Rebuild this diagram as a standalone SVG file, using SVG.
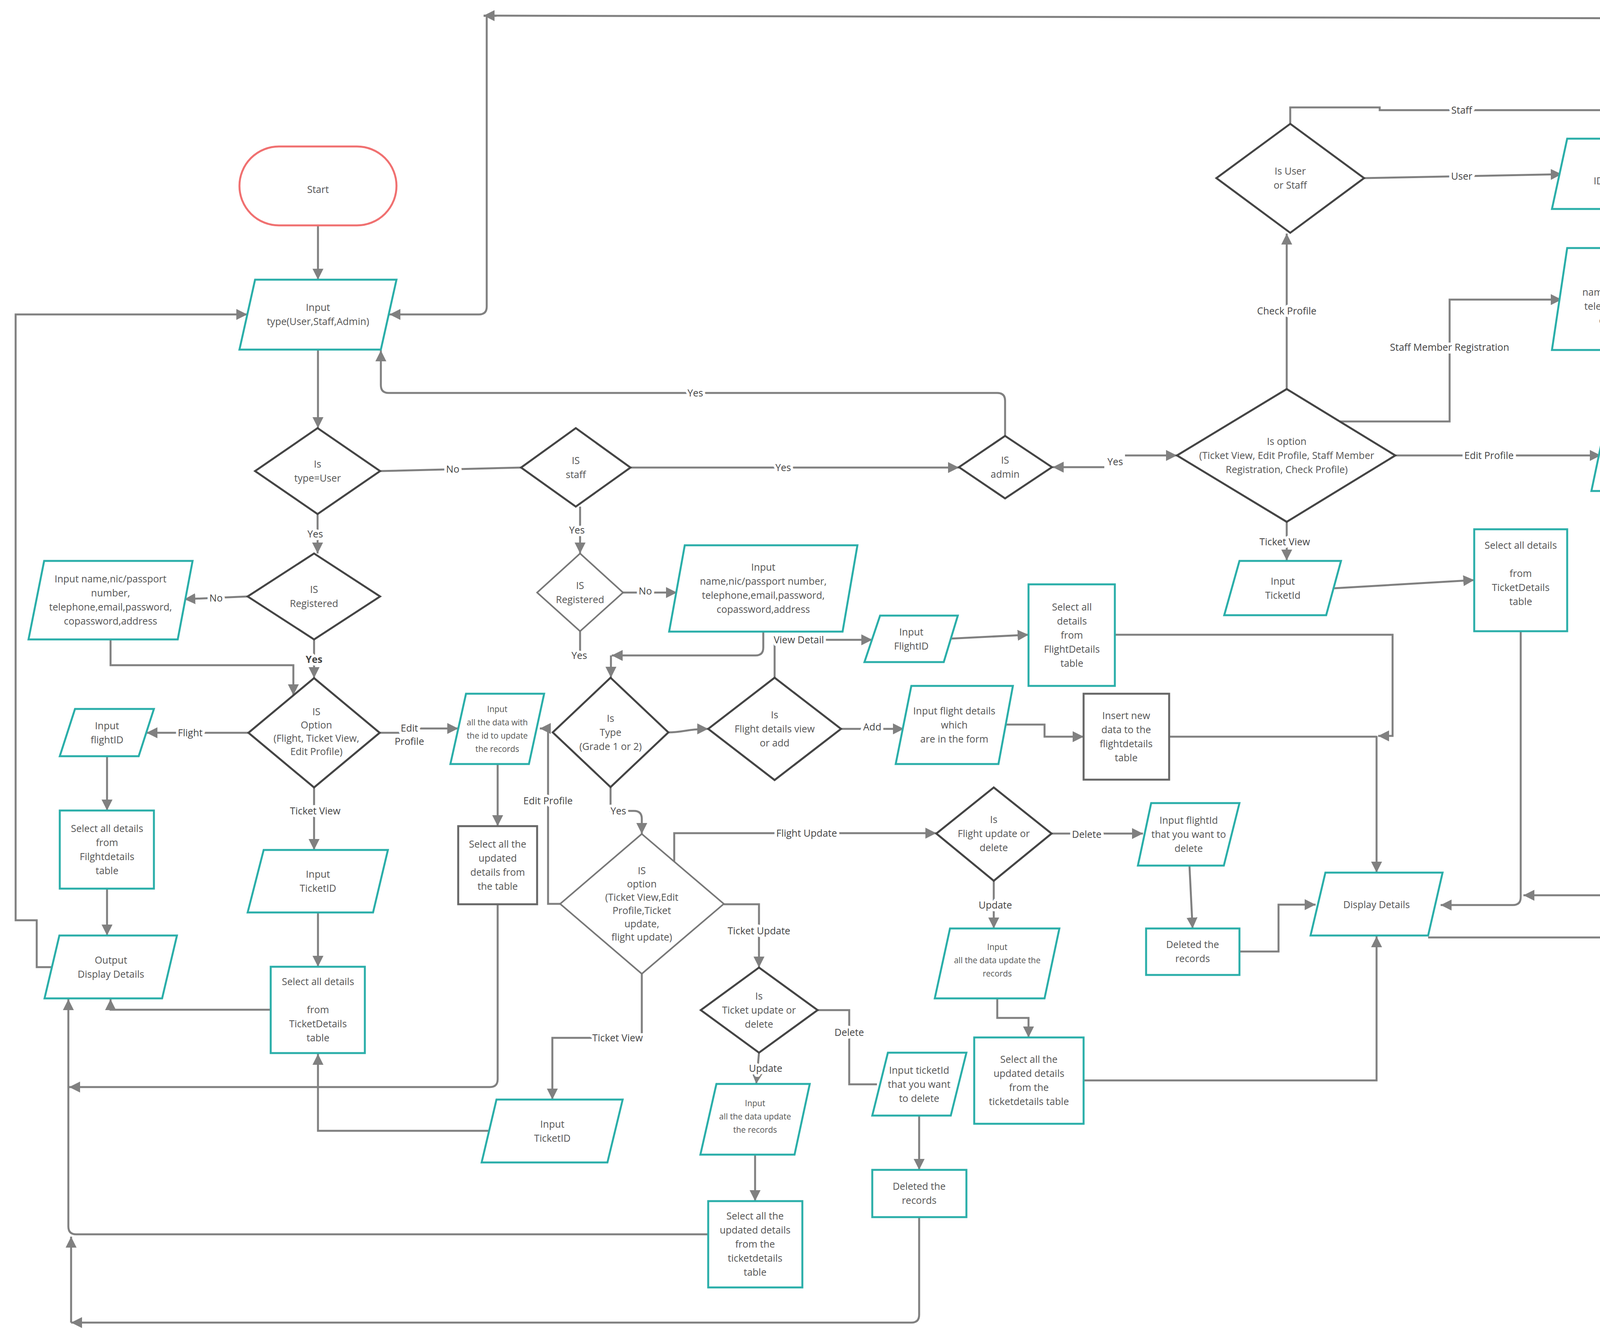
<svg xmlns="http://www.w3.org/2000/svg" width="5624" height="3428" viewBox="0 0 5624 3428">
<defs>
<marker id="a" viewBox="0 0 10 10" refX="10" refY="5" markerWidth="28" markerHeight="28" markerUnits="userSpaceOnUse" orient="auto"><path d="M0,0 L10,5 L0,10 z" fill="#808080"/></marker>
<style>
.t{font-family:"Open Sans","Liberation Sans",sans-serif;font-size:25px;fill:#555;text-anchor:middle}
.s{font-size:21px}
.l{font-family:"Open Sans","Liberation Sans",sans-serif;font-size:25px;fill:#444;text-anchor:middle;stroke:#fff;stroke-width:14px;paint-order:stroke;stroke-linejoin:round}
.io{fill:#fff;stroke:#2aaea9;stroke-width:5}
.gr{fill:#fff;stroke:#666;stroke-width:5}
.dm{fill:#fff;stroke:#444;stroke-width:5}
.dl{fill:#fff;stroke:#777;stroke-width:4}
.st{fill:#fff;stroke:#f07070;stroke-width:5}
.c path{fill:none;stroke:#808080;stroke-width:5}
.c .m{marker-end:url(#a)}
</style>
</defs>
<rect width="5624" height="3428" fill="#fff"/>
<g class="c" id="connectors">
<path class="m" d="M814,577 V716"/>
<path class="m" d="M814,895 V1096"/>
<path d="M973,1206 L1334,1197"/>
<path class="m" d="M1614,1197 H2455"/>
<path class="m" d="M2573,1116 V1026 Q2573,1006 2553,1006 H995 Q975,1006 975,986 V897"/>
<path class="m" d="M2827,1196 H2695"/>
<path class="m" d="M2880,1166 H3013"/>
<path class="m" d="M813,1316 V1417"/>
<path class="m" d="M634,1527 L472,1534"/>
<path class="m" d="M283,1637 V1703 H751 V1780"/>
<path class="m" d="M804,1637 V1736"/>
<path class="m" d="M636,1876 H375"/>
<path class="m" d="M274,1936 V2075"/>
<path class="m" d="M274,2275 V2395"/>
<path class="m" d="M133,2476 H94 V2356 H40 V805 H633"/>
<path class="m" d="M804,2016 V2176"/>
<path class="m" d="M814,2336 V2475"/>
<path class="m" d="M693,2585 H283 V2558"/>
<path class="m" d="M972,1876 H1035 V1865 H1173"/>
<path class="m" d="M1274,1956 V2115"/>
<path class="m" d="M1274,2315 V2763 Q1274,2783 1254,2783 H177"/>
<path class="m" d="M1485,1297 V1417"/>
<path class="m" d="M1595,1517 H1733"/>
<path d="M1485,1616 V1678"/>
<path class="m" d="M1954,1617 V1658 Q1954,1678 1934,1678 H1566"/>
<path class="m" d="M1564,1678 V1735"/>
<path class="m" d="M1983,1735 V1638 H2233"/>
<path class="m" d="M2432,1635 L2633,1625"/>
<path class="m" d="M2854,1625 H3565 V1884 H3528"/>
<path d="M2993,1886 H3524"/>
<path class="m" d="M3524,1884 V2234"/>
<path class="m" d="M1711,1875 C1750,1875 1760,1866 1813,1866"/>
<path class="m" d="M2153,1866 H2314"/>
<path class="m" d="M2575,1855 H2674 V1886 H2774"/>
<path class="m" d="M1434,2314 H1403 V1865 H1382"/>
<path class="m" d="M1563,2015 V2076 H1623 Q1643,2076 1643,2096 V2135"/>
<path class="m" d="M1726,2209 V2133 H2397"/>
<path class="m" d="M2692,2134 H2926"/>
<path class="m" d="M3045,2216 L3053,2377"/>
<path class="m" d="M3173,2436 H3273 V2316 H3368"/>
<path class="m" d="M2544,2255 V2377"/>
<path class="m" d="M2553,2556 V2606 H2633 V2656"/>
<path class="m" d="M2775,2766 H3524 V2397"/>
<path class="m" d="M1853,2315 H1943 V2477"/>
<path d="M2093,2586 H2174 V2776 H2245"/>
<path class="m" d="M2353,2856 V2995"/>
<path class="m" d="M2353,3116 V3366 Q2353,3386 2333,3386 H182"/>
<path class="m" d="M182,3386 V3166"/>
<path class="m" d="M1943,2695 L1936,2775"/>
<path class="m" d="M1933,2956 V3075"/>
<path class="m" d="M1813,3160 H195 Q175,3160 175,3140 V2558"/>
<path class="m" d="M1643,2493 V2657 H1414 V2815"/>
<path class="m" d="M1253,2895 H814 V2698"/>
<path class="m" d="M3656,2400 H5568"/>
<path class="m" d="M5568,2400 V50"/>
<path class="m" d="M5568,50 L1238,40"/>
<path class="m" d="M1246,40 V785 Q1246,805 1226,805 H997"/>
<path class="m" d="M3303,317 V275 H3532 V282 H4154 V355"/>
<path class="m" d="M3492,456 L3998,446"/>
<path class="m" d="M4316,446 H4900 Q4920,446 4920,466 V1071"/>
<path class="m" d="M4920,1071 L4776,1088"/>
<path class="m" d="M3294,996 V598"/>
<path class="m" d="M3430,1079 H3711 V767 H3998"/>
<path class="m" d="M4436,767 H4543 V896 H4654"/>
<path d="M4774,976 V2281 H4334"/>
<path class="m" d="M3572,1166 H4098"/>
<path class="m" d="M4303,1257 L4312,1396"/>
<path class="m" d="M4334,1616 V2281"/>
<path class="m" d="M4334,2292 H3900"/>
<path class="m" d="M3294,1336 V1435"/>
<path class="m" d="M3416,1506 L3774,1485"/>
<path class="m" d="M3893,1616 V2297 Q3893,2317 3873,2317 H3688"/>
</g>
<g id="labels">
<text class="l" x="1159" y="1210">No</text>
<text class="l" x="2005" y="1206">Yes</text>
<text class="l" x="1780" y="1015">Yes</text>
<text class="l" x="2855" y="1191">Yes</text>
<text class="l" x="807" y="1376">Yes</text>
<text class="l" x="553" y="1540">No</text>
<text class="l" x="804" y="1697" font-weight="bold">Yes</text>
<text class="l" x="487" y="1885">Flight</text>
<text class="l" x="807" y="2085">Ticket View</text>
<text class="l" x="1048" y="1873">Edit</text>
<text class="l" x="1048" y="1907">Profile</text>
<text class="l" x="1477" y="1366">Yes</text>
<text class="l" x="1652" y="1522">No</text>
<text class="l" x="1483" y="1687">Yes</text>
<text class="l" x="2045" y="1647">View Detail</text>
<text class="l" x="2233" y="1870">Add</text>
<text class="l" x="1403" y="2059">Edit Profile</text>
<text class="l" x="1583" y="2085">Yes</text>
<text class="l" x="2065" y="2142">Flight Update</text>
<text class="l" x="2782" y="2145">Delete</text>
<text class="l" x="2548" y="2326">Update</text>
<text class="l" x="1943" y="2392">Ticket Update</text>
<text class="l" x="2174" y="2652">Delete</text>
<text class="l" x="1960" y="2744">Update</text>
<text class="l" x="1581" y="2666">Ticket View</text>
<text class="l" x="3742" y="291">Staff</text>
<text class="l" x="3742" y="460">User</text>
<text class="l" x="3294" y="805">Check Profile</text>
<text class="l" x="3711" y="898">Staff Member Registration</text>
<text class="l" x="3812" y="1175">Edit Profile</text>
<text class="l" x="3289" y="1396">Ticket View</text>
</g>
<g id="start"><rect class="st" x="613" y="375" width="402" height="202" rx="101"/><text class="t" x="814" y="494">Start</text></g>
<g id="inType"><polygon class="io" points="653,716 1015,716 975,895 613,895"/><text class="t" x="814" y="796">Input<tspan x="814" dy="36">type(User,Staff,Admin)</tspan></text></g>
<g id="dType"><polygon class="dm" points="813,1096 973,1206 813,1316 653,1206"/><text class="t" x="813" y="1197">Is<tspan x="813" dy="36">type=User</tspan></text></g>
<g id="dStaff"><polygon class="dm" points="1474,1096 1614,1197 1474,1297 1334,1197"/><text class="t" x="1474" y="1188">IS<tspan x="1474" dy="36">staff</tspan></text></g>
<g id="dAdmin"><polygon class="dm" points="2573,1116 2693,1196 2573,1276 2455,1196"/><text class="t" x="2573" y="1187">IS<tspan x="2573" dy="36">admin</tspan></text></g>
<g id="dReg1"><polygon class="dm" points="804,1417 973,1527 804,1637 634,1527"/><text class="t" x="804" y="1518">IS<tspan x="804" dy="36">Registered</tspan></text></g>
<g id="pReg1"><polygon class="io" points="113,1436 493,1436 455,1637 73,1637"/><text class="t" x="283" y="1491">Input name,nic/passport<tspan x="283" dy="36">number,</tspan><tspan x="283" dy="36">telephone,email,password,</tspan><tspan x="283" dy="36">copassword,address</tspan></text></g>
<g id="dOpt1"><polygon class="dm" points="804,1736 972,1876 804,2016 636,1876"/><text class="t" x="810" y="1831">IS<tspan x="810" dy="34">Option</tspan><tspan x="810" dy="34">(Flight, Ticket View,</tspan><tspan x="810" dy="34">Edit Profile)</tspan></text></g>
<g id="pFlightID1"><polygon class="io" points="192,1815 394,1815 355,1936 153,1936"/><text class="t" x="274" y="1867">Input<tspan x="274" dy="36">flightID</tspan></text></g>
<g id="rFlight1"><rect class="io" x="153" y="2075" width="241" height="200"/><text class="t" x="274" y="2130">Select all details<tspan x="274" dy="36">from</tspan><tspan x="274" dy="36">Filghtdetails</tspan><tspan x="274" dy="36">table</tspan></text></g>
<g id="pOutput"><polygon class="io" points="152,2395 453,2395 415,2556 114,2556"/><text class="t" x="284" y="2467">Output<tspan x="284" dy="36">Display  Details</tspan></text></g>
<g id="pTicketID1"><polygon class="io" points="675,2176 993,2176 955,2336 634,2336"/><text class="t" x="814" y="2247">Input<tspan x="814" dy="36">TicketID</tspan></text></g>
<g id="rTicket1"><rect class="io" x="693" y="2475" width="241" height="221"/><text class="t" x="814" y="2522">Select all details<tspan x="814" dy="72">from</tspan><tspan x="814" dy="36">TicketDetails</tspan><tspan x="814" dy="36">table</tspan></text></g>
<g id="pEdit1"><polygon class="io" points="1193,1776 1393,1776 1354,1956 1153,1956"/><text class="t s" x="1273" y="1823">Input<tspan x="1273" dy="34">all the data with</tspan><tspan x="1273" dy="34">the id to update</tspan><tspan x="1273" dy="34">the records</tspan></text></g>
<g id="rEdit1"><rect class="gr" x="1173" y="2115" width="202" height="200"/><text class="t" x="1274" y="2170">Select all the<tspan x="1274" dy="36">updated</tspan><tspan x="1274" dy="36">details from</tspan><tspan x="1274" dy="36">the table</tspan></text></g>
<g id="dReg2"><polygon class="dl" points="1485,1417 1595,1517 1485,1616 1375,1517"/><text class="t" x="1485" y="1508">IS<tspan x="1485" dy="36">Registered</tspan></text></g>
<g id="pReg2"><polygon class="io" points="1753,1396 2195,1396 2157,1617 1713,1617"/><text class="t" x="1954" y="1461">Input<tspan x="1954" dy="36">name,nic/passport number,</tspan><tspan x="1954" dy="36">telephone,email,password,</tspan><tspan x="1954" dy="36">copassword,address</tspan></text></g>
<g id="pFlightID2"><polygon class="io" points="2253,1576 2452,1576 2416,1695 2213,1695"/><text class="t" x="2333" y="1627">Input<tspan x="2333" dy="36">FlightID</tspan></text></g>
<g id="rFD"><rect class="io" x="2633" y="1496" width="221" height="260"/><text class="t" x="2744" y="1563">Select all<tspan x="2744" dy="36">details</tspan><tspan x="2744" dy="36">from</tspan><tspan x="2744" dy="36">FlightDetails</tspan><tspan x="2744" dy="36">table</tspan></text></g>
<g id="dIsType"><polygon class="dm" points="1563,1735 1711,1875 1563,2015 1415,1875"/><text class="t" x="1563" y="1848">Is<tspan x="1563" dy="36">Type</tspan><tspan x="1563" dy="36">(Grade 1 or 2)</tspan></text></g>
<g id="dFV"><polygon class="dm" points="1983,1735 2153,1866 1983,1997 1813,1866"/><text class="t" x="1983" y="1839">Is<tspan x="1983" dy="36">Flight details view</tspan><tspan x="1983" dy="36">or add</tspan></text></g>
<g id="pAddFlight"><polygon class="io" points="2333,1756 2593,1756 2556,1956 2293,1956"/><text class="t" x="2443" y="1829">Input flight details<tspan x="2443" dy="36">which</tspan><tspan x="2443" dy="36">are in the form</tspan></text></g>
<g id="rInsertFlight"><rect class="gr" x="2774" y="1776" width="219" height="220"/><text class="t" x="2883" y="1841">Insert new<tspan x="2883" dy="36">data to the</tspan><tspan x="2883" dy="36">flightdetails</tspan><tspan x="2883" dy="36">table</tspan></text></g>
<g id="dOpt2"><polygon class="dl" points="1643,2135 1853,2314 1643,2493 1434,2314"/><text class="t" x="1643" y="2238">IS<tspan x="1643" dy="34">option</tspan><tspan x="1643" dy="34">(Ticket View,Edit</tspan><tspan x="1643" dy="34">Profile,Ticket</tspan><tspan x="1643" dy="34">update,</tspan><tspan x="1643" dy="34">flight update)</tspan></text></g>
<g id="dFU"><polygon class="dm" points="2544,2016 2692,2134 2544,2255 2397,2134"/><text class="t" x="2544" y="2107">Is<tspan x="2544" dy="36">Flight update or</tspan><tspan x="2544" dy="36">delete</tspan></text></g>
<g id="pDelFlight"><polygon class="io" points="2947,2056 3173,2056 3133,2216 2913,2216"/><text class="t" x="3043" y="2109">Input flightId<tspan x="3043" dy="36">that you want to</tspan><tspan x="3043" dy="36">delete</tspan></text></g>
<g id="rDel1"><rect class="io" x="2934" y="2377" width="239" height="119"/><text class="t" x="3053" y="2427">Deleted the<tspan x="3053" dy="36">records</tspan></text></g>
<g id="pUpdFlight"><polygon class="io" points="2432,2377 2712,2377 2674,2556 2393,2556"/><text class="t s" x="2553" y="2432">Input<tspan x="2553" dy="34">all the data update the</tspan><tspan x="2553" dy="34">records</tspan></text></g>
<g id="rUpd1"><rect class="io" x="2494" y="2656" width="280" height="221"/><text class="t" x="2634" y="2721">Select all the<tspan x="2634" dy="36">updated details</tspan><tspan x="2634" dy="36">from the</tspan><tspan x="2634" dy="36">ticketdetails table</tspan></text></g>
<g id="dTU"><polygon class="dm" points="1943,2477 2093,2586 1943,2695 1794,2586"/><text class="t" x="1943" y="2559">Is<tspan x="1943" dy="36">Ticket update or</tspan><tspan x="1943" dy="36">delete</tspan></text></g>
<g id="pDelTicket"><polygon class="io" points="2273,2695 2474,2695 2434,2856 2233,2856"/><text class="t" x="2353" y="2749">Input ticketId<tspan x="2353" dy="36">that you want</tspan><tspan x="2353" dy="36">to delete</tspan></text></g>
<g id="rDel2"><rect class="io" x="2233" y="2995" width="241" height="121"/><text class="t" x="2353" y="3046">Deleted the<tspan x="2353" dy="36">records</tspan></text></g>
<g id="pUpdTicket"><polygon class="io" points="1834,2775 2073,2775 2034,2956 1793,2956"/><text class="t s" x="1933" y="2832">Input<tspan x="1933" dy="34">all the data update</tspan><tspan x="1933" dy="34">the records</tspan></text></g>
<g id="rUpd2"><rect class="io" x="1813" y="3075" width="241" height="221"/><text class="t" x="1933" y="3122">Select all the<tspan x="1933" dy="36">updated details</tspan><tspan x="1933" dy="36">from the</tspan><tspan x="1933" dy="36">ticketdetails</tspan><tspan x="1933" dy="36">table</tspan></text></g>
<g id="pTicketID2"><polygon class="io" points="1271,2815 1594,2815 1555,2976 1233,2976"/><text class="t" x="1414" y="2887">Input<tspan x="1414" dy="36">TicketID</tspan></text></g>
<g id="pDisplay"><polygon class="io" points="3393,2234 3693,2234 3656,2395 3355,2395"/><text class="t" x="3524" y="2325">Display Details</text></g>
<g id="dUS"><polygon class="dm" points="3303,317 3492,456 3303,596 3114,456"/><text class="t" x="3303" y="447">Is User<tspan x="3303" dy="36">or Staff</tspan></text></g>
<g id="pIDEmail"><polygon class="io" points="4012,355 4333,355 4295,535 3973,535"/><text class="t" x="4153" y="436">Input<tspan x="4153" dy="36">ID and email</tspan></text></g>
<g id="dAdminOpt"><polygon class="dm" points="3294,996 3572,1166 3294,1336 3013,1166"/><text class="t" x="3294" y="1139">Is option<tspan x="3294" dy="36">(Ticket View, Edit Profile, Staff Member</tspan><tspan x="3294" dy="36">Registration, Check Profile)</tspan></text></g>
<g id="pRegStaff"><polygon class="io" points="4012,635 4453,635 4415,896 3973,896"/><text class="t" x="4213" y="721">Input<tspan x="4213" dy="36">name,nic/passport number,</tspan><tspan x="4213" dy="36">telephone,email,password,</tspan><tspan x="4213" dy="36">copassword,address</tspan></text></g>
<g id="rInsertStaff"><rect class="io" x="4654" y="815" width="240" height="161"/><text class="t" x="4774" y="869">Insert new<tspan x="4774" dy="36">records to staff</tspan><tspan x="4774" dy="36">table</tspan></text></g>
<g id="pEditAdmin"><polygon class="io" points="4112,1076 4533,1076 4493,1257 4074,1257"/><text class="t s" x="4303" y="1132">Input<tspan x="4303" dy="34">all the data with the id to update the</tspan><tspan x="4303" dy="34">records</tspan></text></g>
<g id="rUpdAdmin"><rect class="io" x="4133" y="1396" width="362" height="220"/><text class="t" x="4314" y="1497">Select all the updated<tspan x="4314" dy="36">details from the table</tspan></text></g>
<g id="pTicketAdmin"><polygon class="io" points="3173,1436 3433,1436 3395,1575 3134,1575"/><text class="t" x="3284" y="1497">Input<tspan x="3284" dy="36">TicketId</tspan></text></g>
<g id="rTicketAdmin"><rect class="io" x="3774" y="1355" width="238" height="261"/><text class="t" x="3893" y="1405">Select all details<tspan x="3893" dy="72">from</tspan><tspan x="3893" dy="36">TicketDetails</tspan><tspan x="3893" dy="36">table</tspan></text></g>
</svg>
